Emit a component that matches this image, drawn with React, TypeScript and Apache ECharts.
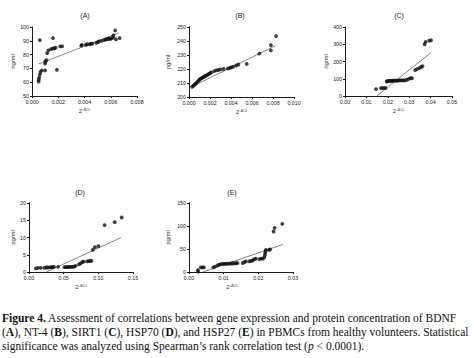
import React, { useEffect, useRef } from "react";
import * as echarts from "echarts";

// ---------- data ----------
const panelTitles = ["(A)", "(B)", "(C)", "(D)", "(E)"];
const yUnits = ["ng/ml", "pg/ml", "ng/ml", "pg/ml", "pg/ml"];

const aX = [0.0005, 0.00052, 0.00055, 0.0006, 0.00065, 0.00075, 0.0006, 0.001, 0.001, 0.00102, 0.0011, 0.00115, 0.00125, 0.00145, 0.0016, 0.0016, 0.0017, 0.0018, 0.0019, 0.00215, 0.0023, 0.00375, 0.0038, 0.0041, 0.0042, 0.0044, 0.0045, 0.0046, 0.0049, 0.005, 0.0051, 0.0053, 0.0055, 0.0056, 0.0057, 0.0058, 0.0059, 0.006, 0.0061, 0.0062, 0.0062, 0.00634, 0.0064, 0.00668];
const aY = [60.5, 62, 63.5, 65.7, 67.5, 68.5, 90.5, 68.5, 73.5, 75, 76, 81, 83, 84, 92, 84.5, 84.5, 85, 69, 86, 86, 86.5, 87, 87, 87.5, 87.5, 88, 88, 88.5, 89, 89.5, 90, 90.5, 91, 91, 91.5, 91.5, 91.5, 92, 92.5, 94, 97.5, 91, 92];
const aFit = [[0.0005, 73.2], [0.0066, 95.7]];

const bX = [0.0003, 0.0004, 0.0005, 0.0006, 0.0007, 0.0008, 0.0009, 0.001, 0.0011, 0.0012, 0.0013, 0.0014, 0.0015, 0.0016, 0.0017, 0.0018, 0.0019, 0.002, 0.0021, 0.0024, 0.0026, 0.0028, 0.003, 0.0033, 0.0037, 0.0039, 0.004, 0.0042, 0.0045, 0.0047, 0.0055, 0.0067, 0.0078, 0.0078, 0.0083];
const bY = [207.3, 208, 208.7, 209.3, 210, 210.8, 211.5, 212.5, 213, 213.5, 213.8, 214.3, 214.8, 215.2, 215.6, 216, 216.5, 217, 217.5, 218.5, 219, 219.3, 219.7, 220, 220.3, 220.8, 221.2, 221.6, 222.5, 223.2, 223.6, 231, 233.3, 237, 243.5];
const bFit = [[0.0003, 207.5], [0.0082, 236.5]];

const cX = [0.0145, 0.0168, 0.0175, 0.0182, 0.019, 0.0195, 0.0198, 0.0205, 0.021, 0.0215, 0.022, 0.0225, 0.023, 0.0235, 0.024, 0.0245, 0.025, 0.0258, 0.0265, 0.0272, 0.028, 0.0288, 0.0297, 0.0305, 0.0313, 0.0328, 0.0336, 0.0347, 0.0356, 0.0362, 0.0372, 0.0377, 0.0394, 0.0402];
const cY = [40, 46, 46, 47, 46, 84, 86, 87, 88, 88, 88, 89, 89, 89, 89, 89, 90, 90, 90, 90, 91, 94, 98, 104, 103, 150, 156, 162, 168, 173, 300, 314, 321, 323];
const cFit = [[0.0148, 0], [0.0402, 252]];

const dX = [0.0099, 0.013, 0.017, 0.022, 0.025, 0.027, 0.03, 0.032, 0.034, 0.036, 0.042, 0.051, 0.053, 0.055, 0.057, 0.059, 0.061, 0.063, 0.065, 0.067, 0.072, 0.0745, 0.077, 0.079, 0.084, 0.086, 0.088, 0.09, 0.092, 0.095, 0.1, 0.109, 0.1236, 0.1337];
const dY = [1.05, 1.2, 1.2, 1.2, 1.3, 1.3, 1.35, 1.4, 1.4, 1.5, 1.5, 1.4, 1.4, 1.45, 1.45, 1.5, 1.5, 1.5, 1.55, 1.75, 2.2, 2.5, 2.9, 3.0, 3.1, 3.15, 3.2, 3.2, 6.4, 7.2, 7.5, 13.6, 14.45, 15.8];
const dFit = [[0.025, 0], [0.133, 10]];

const eX = [0.0026, 0.0026, 0.0034, 0.0039, 0.0043, 0.007, 0.0075, 0.0082, 0.0087, 0.0092, 0.0097, 0.0102, 0.0106, 0.0111, 0.0116, 0.0121, 0.0126, 0.0131, 0.0136, 0.014, 0.0155, 0.016, 0.0164, 0.0174, 0.0179, 0.0184, 0.0188, 0.0193, 0.0203, 0.0208, 0.0213, 0.0217, 0.0219, 0.022, 0.0221, 0.0222, 0.0231, 0.0234, 0.0244, 0.0247, 0.0269];
const eY = [1, 4.3, 10, 10, 10, 10, 11.5, 14.5, 16, 17, 17.5, 17.5, 17.5, 18, 18, 18.5, 18.5, 19, 19, 19.5, 19.5, 21.5, 23, 23, 24, 25, 28, 29, 28, 29, 29, 32, 37, 42, 46, 48, 48, 49, 88, 96, 104.5];
const eFit = [[0.004, 0], [0.0271, 60]];

// axis ranges
const xMaxes = [0.008, 0.01, 0.05, 0.15, 0.03];
const xSteps = [0.002, 0.002, 0.01, 0.05, 0.01];
const xDigits = [3, 3, 2, 2, 2];
const yMins = [50, 200, 0, 0, 0];
const yMaxes = [100, 250, 400, 20, 150];
const ySteps = [10, 10, 100, 5, 50];

const captionLine1 = "{b|Figure 4.} Assessment of correlations between gene expression and protein concentration of BDNF";
const captionLine2 = "({b|A}), NT-4 ({b|B}), SIRT1 ({b|C}), HSP70 ({b|D}), and HSP27 ({b|E}) in PBMCs from healthy volunteers. Statistical";
const captionLine3 = "significance was analyzed using Spearman\u2019s rank correlation test ({i|p} < 0.0001).";

const xs = [aX, bX, cX, dX, eX];
const ys = [aY, bY, cY, dY, eY];
const fits = [aFit, bFit, cFit, dFit, eFit];

// ---------- layout ----------
const grids = [
  { left: 32, top: 27, width: 105, height: 69 },
  { left: 189, top: 27, width: 105, height: 70 },
  { left: 345, top: 27, width: 107, height: 69 },
  { left: 29, top: 203, width: 104, height: 69 },
  { left: 189, top: 203, width: 104, height: 69 },
];
const titlePos = [[85, 15], [240, 15], [399, 15], [80, 192], [232, 192]];
const yNameGaps = [15, 18, 11, 10, 18];
const xNamePad = [0, 0, 0, 0, 18];

const sans = "Liberation Sans, Arial, sans-serif";
const serif = "Liberation Serif, Times New Roman, serif";
const capSize = 11.5;

export default function App() {
  const ref = useRef<HTMLDivElement>(null);
  useEffect(() => {
    if (!ref.current) return;
    const chart = echarts.init(ref.current, null, { renderer: "svg" });
    const axisColor = "#1a1a1a";
    const xAxis = grids.map((_, i) => ({
      type: "value",
      gridIndex: i,
      min: 0,
      max: xMaxes[i],
      interval: xSteps[i],
      name: "2{s|-\u0394Ct}",
      nameLocation: "middle",
      nameGap: 11,
      nameTextStyle: {
        fontSize: 6,
        color: "#333",
        fontFamily: sans,
        padding: [0, xNamePad[i], 0, 0],
        rich: { s: { fontSize: 4, color: "#333", fontFamily: sans, verticalAlign: "top", padding: [0, 0, 3, 0] } },
      },
      axisLine: { show: true, lineStyle: { color: axisColor, width: 1 } },
      axisTick: { show: true, length: 2, lineStyle: { color: axisColor } },
      axisLabel: {
        fontSize: 5.3,
        color: "#222",
        margin: 3,
        fontFamily: sans,
        formatter: (v: number) => v.toFixed(xDigits[i]),
      },
      splitLine: { show: false },
    }));
    const yAxis = grids.map((_, i) => ({
      type: "value",
      gridIndex: i,
      min: yMins[i],
      max: yMaxes[i],
      interval: ySteps[i],
      name: yUnits[i],
      nameLocation: "middle",
      nameGap: yNameGaps[i],
      nameTextStyle: { fontSize: 6, color: "#333", fontFamily: sans },
      axisLine: { show: true, lineStyle: { color: axisColor, width: 1 } },
      axisTick: { show: true, length: 2, lineStyle: { color: axisColor } },
      axisLabel: { fontSize: 5.3, color: "#222", margin: 3, fontFamily: sans },
      splitLine: { show: false },
    }));
    const series: any[] = [];
    grids.forEach((_, i) => {
      series.push({
        type: "line",
        xAxisIndex: i,
        yAxisIndex: i,
        data: fits[i],
        symbol: "none",
        lineStyle: { color: "#666", width: 0.8 },
        silent: true,
        z: 1,
      });
      series.push({
        type: "scatter",
        xAxisIndex: i,
        yAxisIndex: i,
        data: xs[i].map((x, k) => [x, ys[i][k]]),
        symbol: "circle",
        symbolSize: 3.8,
        itemStyle: { color: "#111" },
        z: 2,
      });
    });
    const graphic: any[] = panelTitles.map((t, i) => ({
      type: "text",
      x: titlePos[i][0],
      y: titlePos[i][1],
      style: {
        text: t,
        fontSize: 7,
        fontFamily: sans,
        fill: "#222",
        align: "center",
        verticalAlign: "middle",
      },
    }));
    const capRich = {
      b: { fontWeight: "bold", fontSize: capSize, fontFamily: serif, fill: "#111" },
      i: { fontStyle: "italic", fontSize: capSize, fontFamily: serif, fill: "#111" },
    };
    [captionLine1, captionLine2, captionLine3].forEach((line, k) => {
      graphic.push({
        type: "text",
        x: 2,
        y: 318 + k * 14,
        style: {
          text: line,
          fontSize: capSize,
          fontFamily: serif,
          fill: "#111",
          align: "left",
          verticalAlign: "middle",
          rich: capRich,
        },
      });
    });
    chart.setOption({
      animation: false,
      backgroundColor: "#fff",
      grid: grids.map((g) => ({ ...g, containLabel: false })),
      xAxis,
      yAxis,
      series,
      graphic,
    });
    return () => chart.dispose();
  }, []);
  return (
    <div
      ref={ref}
      style={{ position: "fixed", left: 0, top: 0, width: 474, height: 358, background: "#fff" }}
    />
  );
}
